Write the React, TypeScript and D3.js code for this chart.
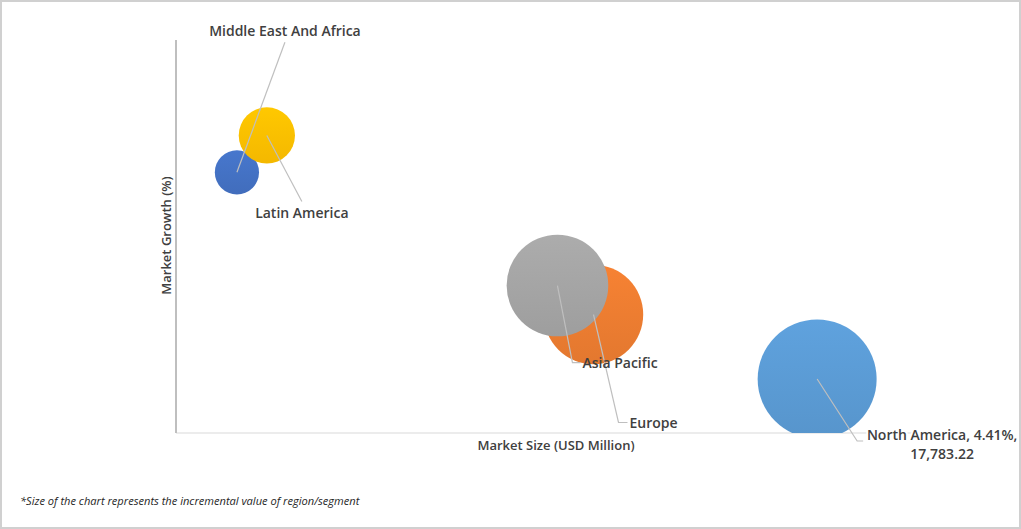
import React from 'react';
import * as d3 from 'd3';

// Regions, market size (USD Mn), growth (%), incremental value (bubble size)
const regions = ['Middle East And Africa', 'Latin America', 'Europe', 'Asia Pacific', 'North America'];
const marketSize = [1690, 2520, 11580, 10580, 17783.22];
const marketGrowth = [5.98, 6.26, 4.9, 5.12, 4.41];
const incremental = [484, 784, 2450, 2560, 3510];
const colors = ['#4472C4', '#FFC000', '#ED7D31', '#A5A5A5', '#5B9BD5'];

const W = 1021;
const H = 529;
const plot = { left: 176, right: 936, top: 38, bottom: 433 };
const FONT = '"Open Sans", "DejaVu Sans", sans-serif';
const TEXT = '#404040';

const x = d3.scaleLinear().domain([0, 21080]).range([plot.left, plot.right]);
const y = d3.scaleLinear().domain([4, 7]).range([plot.bottom, plot.top]);
const r = d3.scaleSqrt().domain([0, 3510]).range([0, 59.5]);

const points = regions.map((name, i) => ({
  name,
  cx: x(marketSize[i]),
  cy: y(marketGrowth[i]),
  r: r(incremental[i]),
  color: colors[i],
}));

// Label anchors relative to each bubble centre (leader line end + label placement)
const labelPos: Record<string, { dx: number; dy: number; hook: number }> = {
  'Middle East And Africa': { dx: 48, dy: -130, hook: 0 },
  'Latin America': { dx: 35, dy: 66, hook: 0 },
  'Asia Pacific': { dx: 15, dy: 77, hook: 8 },
  'Europe': { dx: 25, dy: 108, hook: 9 },
  'North America': { dx: 40, dy: 62, hook: 6 },
};

const App: React.FC = () => {
  const shade = (c: string, k: number) => {
    const col = d3.color(c)!;
    return (k > 0 ? col.brighter(k) : col.darker(-k)).formatHex();
  };

  return (
    <svg width={W} height={H} style={{ position: 'absolute', left: 0, top: 0, background: '#fff' }}>
      <defs>
        {points.map((p, i) => (
          <linearGradient key={i} id={`g${i}`} x1="0" y1="0" x2="0" y2="1">
            <stop offset="0%" stopColor={shade(p.color, 0.12)} />
            <stop offset="100%" stopColor={shade(p.color, -0.12)} />
          </linearGradient>
        ))}
        <clipPath id="plotClip">
          <rect x={plot.left} y={0} width={W - plot.left} height={plot.bottom} />
        </clipPath>
      </defs>

      <rect x={1} y={1} width={W - 2} height={H - 2} fill="#fff" stroke="#d0d0d0" strokeWidth={2} />

      {/* axes */}
      <line x1={plot.left} x2={plot.right} y1={plot.bottom} y2={plot.bottom} stroke="#d9d9d9" strokeWidth={1.2} />
      <line x1={plot.left} x2={plot.left} y1={plot.top + 2} y2={plot.bottom} stroke="#bfbfbf" strokeWidth={2} />

      {/* bubbles */}
      <g clipPath="url(#plotClip)">
        {points.map((p, i) => (
          <circle key={p.name} cx={p.cx} cy={p.cy} r={p.r} fill={`url(#g${i})`} />
        ))}
      </g>

      {/* leader lines */}
      {points.map((p) => {
        const l = labelPos[p.name];
        const ex = p.cx + l.dx;
        const ey = p.cy + l.dy;
        return (
          <polyline
            key={p.name}
            points={`${p.cx},${p.cy} ${ex},${ey} ${ex + l.hook},${ey}`}
            fill="none"
            stroke="#bfbfbf"
            strokeWidth={1.2}
          />
        );
      })}

      {/* labels */}
      <g fontFamily={FONT} fontWeight={600} fontSize={14} fill={TEXT}>
        {points.map((p, i) => {
          const l = labelPos[p.name];
          const ex = p.cx + l.dx + l.hook;
          const ey = p.cy + l.dy;
          if (p.name === 'Middle East And Africa') {
            return (
              <text key={p.name} x={ex} y={ey - 6} textAnchor="middle">{p.name}</text>
            );
          }
          if (p.name === 'Latin America') {
            return (
              <text key={p.name} x={ex} y={ey + 17} textAnchor="middle">{p.name}</text>
            );
          }
          if (p.name === 'North America') {
            const cxText = ex + 79;
            return (
              <text key={p.name} textAnchor="middle" stroke="#fff" strokeWidth={4} paintOrder="stroke">
                <tspan x={cxText} y={ey - 1}>{`${p.name}, ${marketGrowth[i].toFixed(2)}%,`}</tspan>
                <tspan x={cxText} y={ey + 18}>{d3.format(',.2f')(marketSize[i])}</tspan>
              </text>
            );
          }
          return (
            <text key={p.name} x={ex + 2} y={ey + 5} textAnchor="start">{p.name}</text>
          );
        })}
      </g>

      {/* axis titles */}
      <g fontFamily={FONT} fontWeight={600} fontSize={13} fill={TEXT}>
        <text x={(plot.left + plot.right) / 2} y={plot.bottom + 17} textAnchor="middle">Market Size (USD Million)</text>
        <text transform={`translate(${plot.left - 5},${(plot.top + plot.bottom) / 2}) rotate(-90)`} textAnchor="middle">Market Growth (%)</text>
      </g>

      <text x={20} y={505} fontFamily={FONT} fontStyle="italic" fontSize={11.1} fill="#262626">
        *Size of the chart represents the incremental value of region/segment
      </text>
    </svg>
  );
};

export default App;
